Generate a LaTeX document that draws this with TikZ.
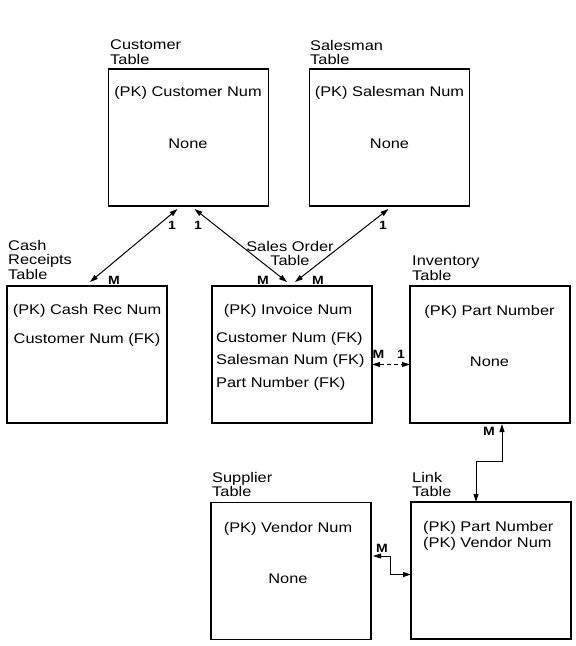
\documentclass[tikz,border=0pt]{standalone}
\usepackage{fontspec}
\setmainfont{Liberation Sans}[FakeStretch=1.17]
\usetikzlibrary{shapes,arrows,arrows.meta}
\usetikzlibrary{calc}

\begin{document}
\begin{tikzpicture}[x=1pt,y=-1pt]

\tikzstyle{tablebox} = [draw, line width=1.4, minimum width=160, minimum height=137, inner sep=0, outer sep=0]
\tikzstyle{title} = [anchor=north west, inner sep=0, align=left, font=\fontsize{14}{14.5}\selectfont]
\tikzstyle{field} = [anchor=base, inner sep=0, font=\fontsize{14}{15}\selectfont]
\tikzstyle{fkfield} = [field, anchor=base west]
\tikzstyle{card} = [inner sep=0, font=\fontsize{12}{13}\selectfont\bfseries]
\tikzstyle{rel} = [{Triangle[length=8pt,width=5pt]}-{Triangle[length=8pt,width=5pt]}, line width=1]

\useasboundingbox (0,0) rectangle (576,646);

\node [tablebox] (customer) at (188.5,137.5) {};
\node [tablebox] (salesman) at (389.5,137.5) {};
\node [tablebox] (cashrec) at (87,354.5) {};
\node [tablebox] (invoice) at (292,354.5) {};
\node [tablebox] (inventory) at (490,354.5) {};
\node [tablebox] (supplier) at (291,571) {};
\node [tablebox] (linktbl) at (491,570.5) {};

\node [title] (customer-t) at (110,40) {Customer\\Table};
\node [title] (salesman-t) at (310,40) {Salesman\\Table};
\node [title] (cashrec-t) at (8,240) {Cash\\Receipts\\Table};
\node [title, anchor=north, align=center] (invoice-t) at (290,241) {Sales Order\\Table};
\node [title] (inventory-t) at (412,256) {Inventory\\Table};
\node [title] (supplier-t) at (212,472) {Supplier\\Table};
\node [title] (linktbl-t) at (412,472) {Link\\Table};

\node [field] (customer-pk) at (188,96) {(PK) Customer Num};
\node [field] (customer-none) at (188,148) {None};
\node [field] (salesman-pk) at (389.5,96) {(PK) Salesman Num};
\node [field] (salesman-none) at (389.5,148) {None};

\node [field] (cashrec-pk) at (87,314) {(PK) Cash Rec Num};
\node [field] (cashrec-fk) at (87,343) {Customer Num (FK)};

\node [field] (invoice-pk) at (288,314) {(PK) Invoice Num};
\node [fkfield] (invoice-fk1) at (216,342) {Customer Num (FK)};
\node [fkfield] (invoice-fk2) at (216,364.5) {Salesman Num (FK)};
\node [fkfield] (invoice-fk3) at (216,387) {Part Number (FK)};

\node [field] (inventory-pk) at (489.5,315) {(PK) Part Number};
\node [field] (inventory-none) at (489.5,366) {None};

\node [field] (supplier-pk) at (288,532) {(PK) Vendor Num};
\node [field] (supplier-none) at (288,583) {None};

\node [fkfield] (linktbl-pk1) at (423,531) {(PK) Part Number};
\node [fkfield] (linktbl-pk2) at (423,547) {(PK) Vendor Num};


\draw [rel] ([xshift=-11pt,yshift=-3pt]customer.south) -- ([xshift=3pt,yshift=4pt]cashrec.north);
\node [card] (c1a) at (172,225) {1};
\node [card] (c1b) at (114,280) {M};

\draw [rel] ([xshift=6pt,yshift=-3pt]customer.south) -- ([xshift=-5pt,yshift=4pt]invoice.north);
\node [card] (c2a) at (198,225) {1};
\node [card] (c2b) at (263,280) {M};

\draw [rel] ([xshift=-1pt,yshift=-3pt]salesman.south) -- ([xshift=3pt,yshift=4pt]invoice.north);
\node [card] (c3a) at (383,225) {1};
\node [card] (c3b) at (318,280) {M};

\draw [rel, dash pattern=on 4pt off 3pt] ([yshift=-10pt]invoice.east) -- ([yshift=-10pt]inventory.west);
\node [card] (c4a) at (378.5,354) {M};
\node [card] (c4b) at (401,354) {1};

\draw [rel] ([xshift=12pt,yshift=-1pt]inventory.south) -- ++(0,37) -| ([xshift=-15pt]linktbl.north);
\node [card] (c5a) at (489,431) {M};

\draw [rel] ([xshift=2pt,yshift=15pt]supplier.east) -- ++(17,0) |- ([yshift=-4pt]linktbl.west);
\node [card] (c6a) at (382,548) {M};

\end{tikzpicture}
\end{document}
